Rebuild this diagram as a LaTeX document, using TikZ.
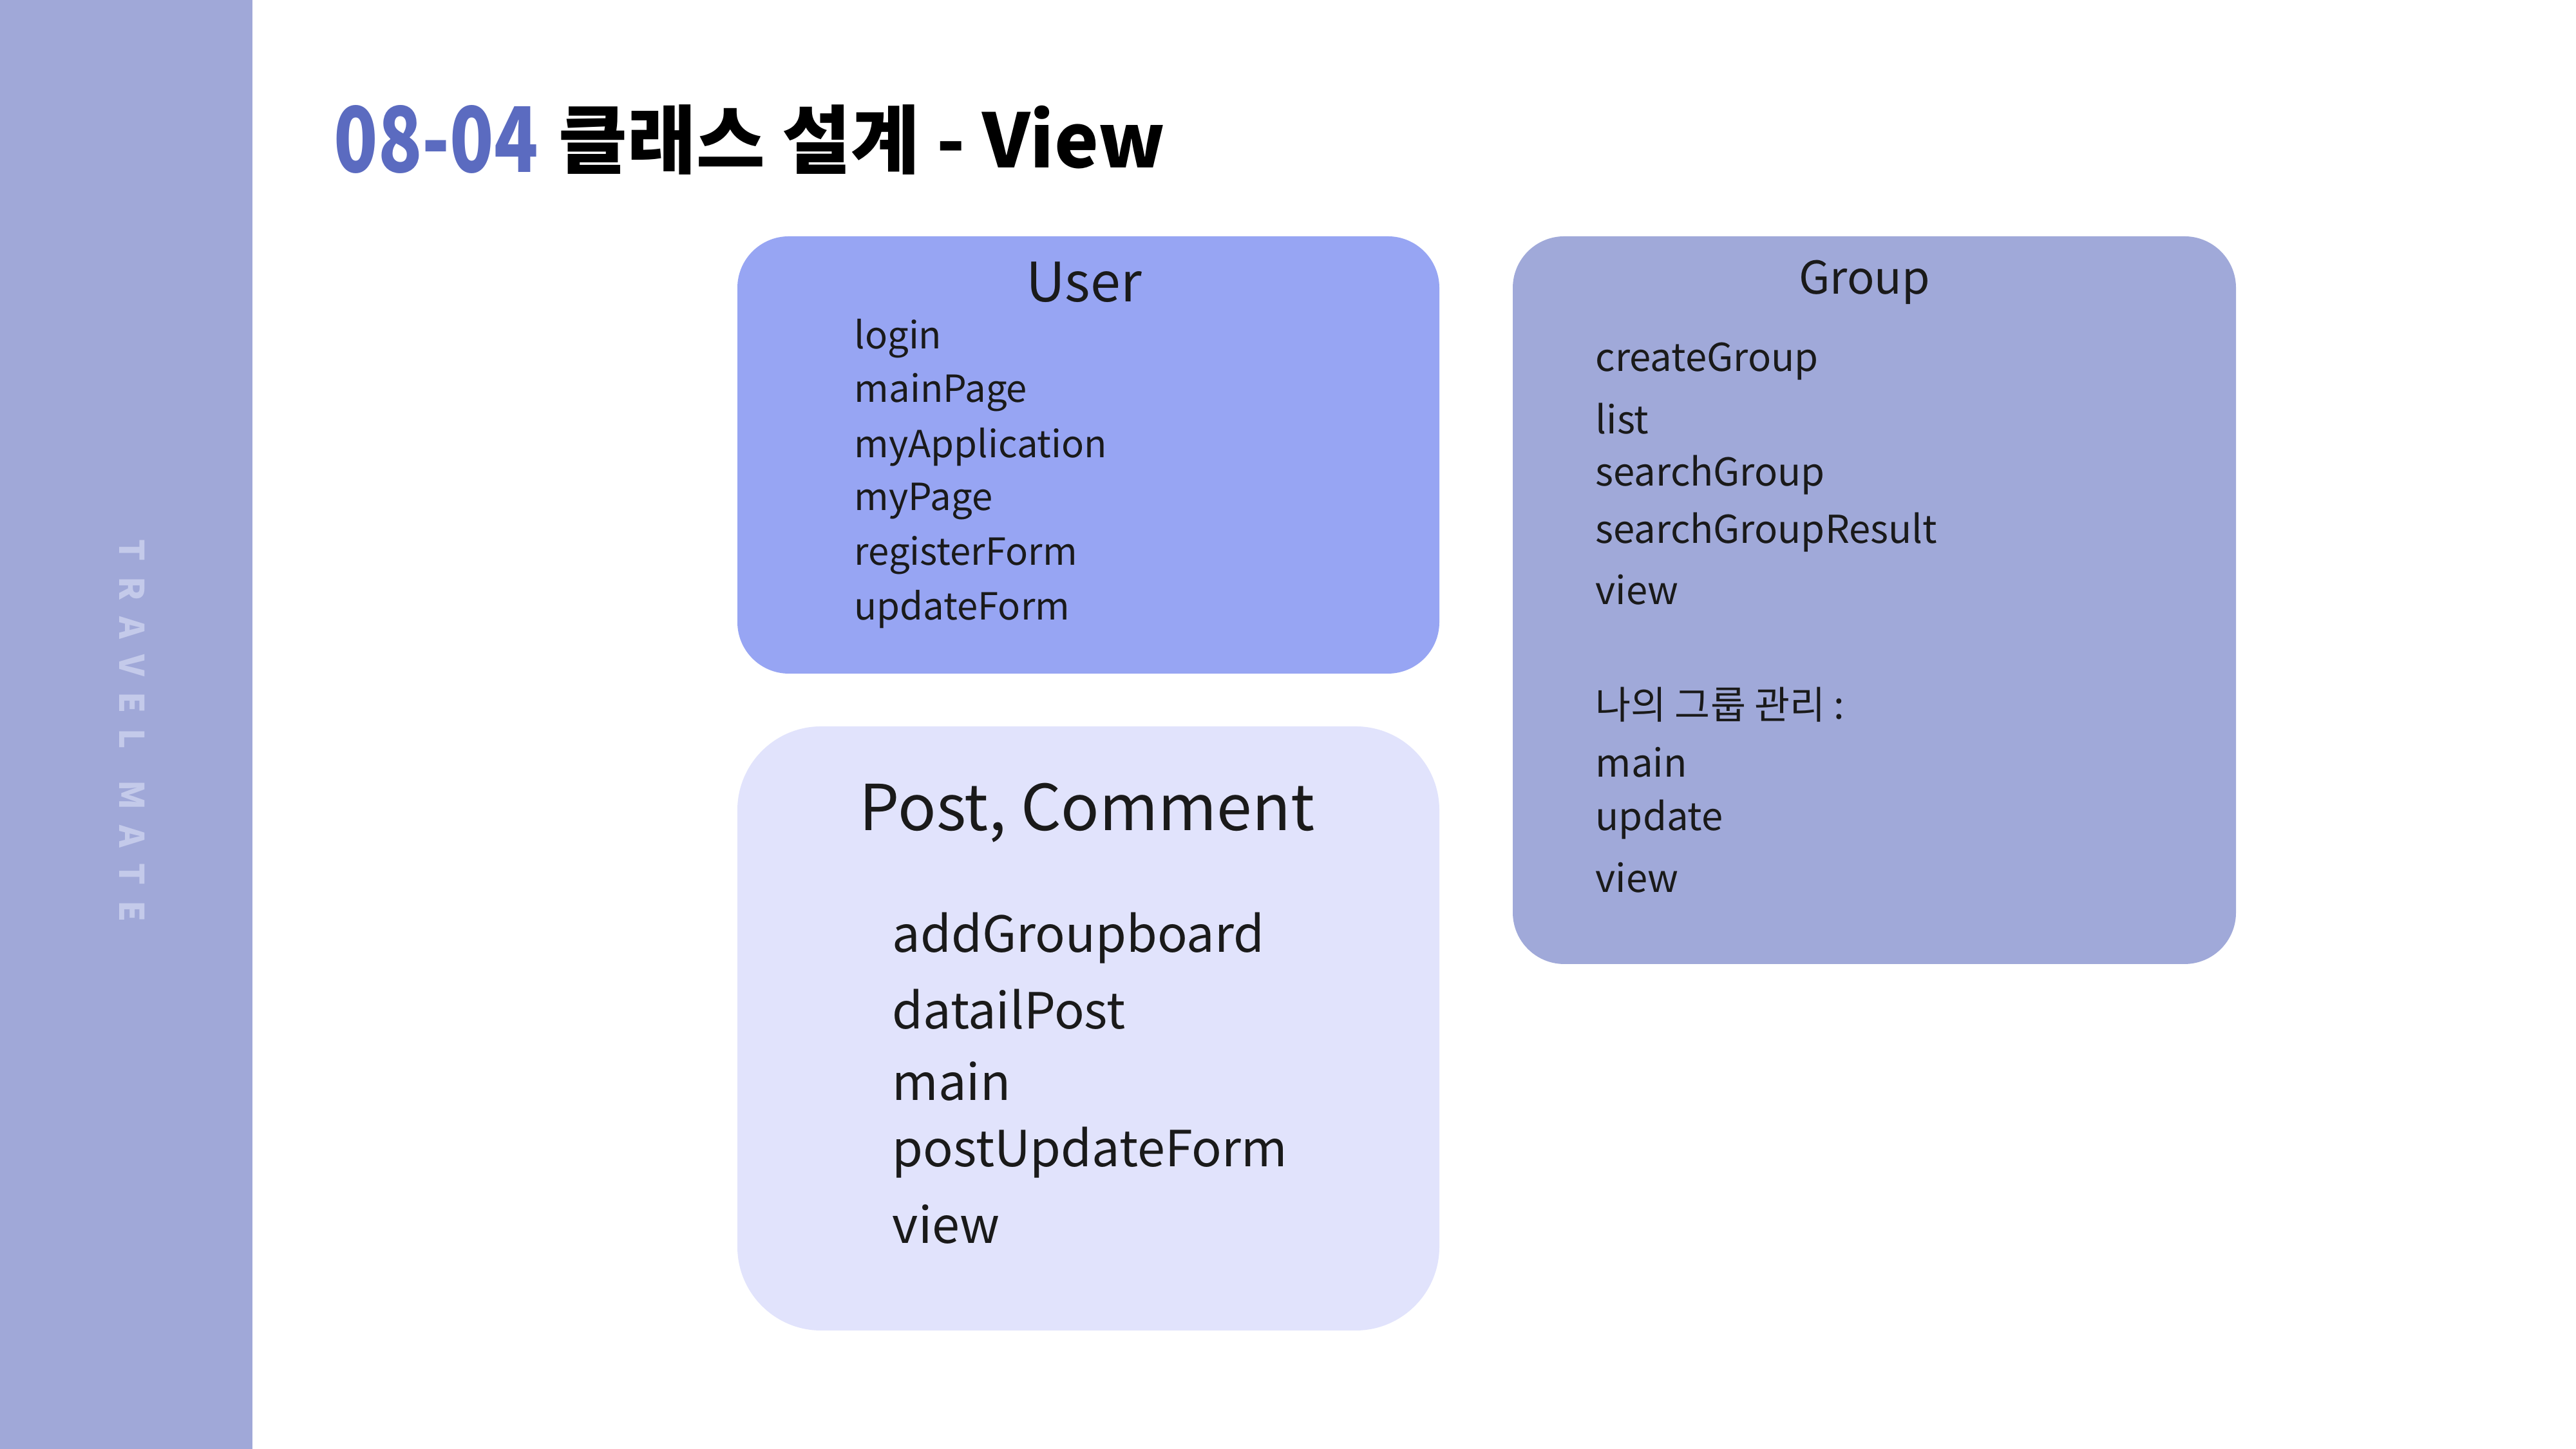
\documentclass[tikz,border=0pt]{standalone}
\usepackage{fontspec}
\setmainfont{Noto Sans CJK KR}
\newfontfamily\hd{Noto Sans CJK KR}
\definecolor{side}{HTML}{A0A8D8}
\definecolor{sidetxt}{HTML}{C4CAEA}
\definecolor{ubox}{HTML}{97A5F3}
\definecolor{pbox}{HTML}{E1E3FC}
\definecolor{gbox}{HTML}{A0A9D9}
\definecolor{ttl}{HTML}{5B6BC0}
\definecolor{txt}{HTML}{1A1A1A}
\tikzset{
 boxs/.style={rounded corners=0.8cm},
 item/.style={anchor=west,inner sep=0,text=txt},
}
\begin{document}
\begin{tikzpicture}
\useasboundingbox (0,0) rectangle (40,22.5);
\fill[white] (0,0) rectangle (40,22.5);
\fill[side] (0,0) rectangle (3.92,22.5);
\node[rotate=-90,text=sidetxt,font=\fontsize{15}{15}\selectfont\bfseries] (side) at (2.05,11.15) {T\ \ R\ \ A\ \ V\ \ E\ \ L\ \ \ \ M\ \ A\ \ T\ \ E};
\node[anchor=west,inner sep=0,text=ttl,font=\fontsize{40}{40}\selectfont\bfseries] (num) at (5.18,20.33) {\scalebox{0.8}[1]{08-04}};
\node[anchor=west,inner sep=0,font=\fontsize{33}{33}\selectfont\bfseries] (title) at (8.67,20.33) {클래스 설계 - View};
% User
\fill[ubox,boxs] (11.45,12.04) rectangle (22.35,18.83);
\node[text=txt,font=\fontsize{24}{24}\selectfont] (ut) at (16.83,18.12) {User};
\foreach \t [count=\i] in {login,mainPage,myApplication,myPage,registerForm,updateForm}
  \node[item,font=\fontsize{16.5}{16.5}\selectfont] (u\i) at (13.26,{22.5-(206+(\i-1)*33)*0.02551}) {\t};
% Post
\fill[pbox,rounded corners=1.3cm] (11.45,1.84) rectangle (22.35,11.22);
\node[text=txt,font=\fontsize{28}{28}\selectfont] (pt) at (16.88,9.88) {Post, Comment};
\foreach \t [count=\i] in {addGroupboard,datailPost,main,postUpdateForm,view}
  \node[item,font=\fontsize{22}{22}\selectfont] (p\i) at (13.85,{22.5-(571+(\i-1)*43.5)*0.02551}) {\t};
% Group
\fill[gbox,boxs] (23.49,7.53) rectangle (34.72,18.83);
\node[text=txt,font=\fontsize{20}{20}\selectfont] (gt) at (28.95,18.12) {Group};
\foreach \t/\y [count=\i] in {createGroup/220,list/255,searchGroup/289,searchGroupResult/324,view/359,나의 그룹 관리 :/429,main/464,update/499,view/534}
  \node[item,font=\fontsize{17}{17}\selectfont] (g\i) at (24.77,{22.5-\y*0.02551}) {\t};
\end{tikzpicture}
\end{document}
